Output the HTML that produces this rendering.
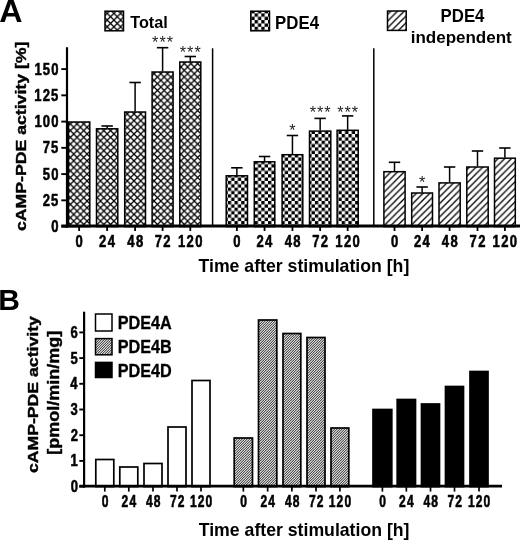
<!DOCTYPE html>
<html><head><meta charset="utf-8"><title>Figure</title>
<style>
html,body{margin:0;padding:0;background:#fff;}
body{width:520px;height:540px;overflow:hidden;}
svg{display:block;font-family:"Liberation Sans",sans-serif;}
</style></head><body>
<svg width="520" height="540" viewBox="0 0 520 540">
<defs>
<pattern id="xh" width="6.7" height="6.7" patternUnits="userSpaceOnUse">
<rect width="6.7" height="6.7" fill="#fff"/>
<path d="M-1,-1 L7.7,7.7 M-1,7.7 L7.7,-1" stroke="#000" stroke-width="1.28" fill="none"/>
</pattern>
<pattern id="ck" width="6.7" height="6.7" patternUnits="userSpaceOnUse">
<rect width="6.7" height="6.7" fill="#fff"/>
<rect x="0" y="0" width="3.35" height="3.35" fill="#000"/>
<rect x="3.35" y="3.35" width="3.35" height="3.35" fill="#000"/>
</pattern>
<pattern id="dg" width="6.7" height="6.7" patternUnits="userSpaceOnUse">
<rect width="6.7" height="6.7" fill="#fff"/>
<path d="M-1,7.7 L7.7,-1 M-1,1 L1,-1 M5.7,7.7 L7.7,5.7" stroke="#000" stroke-width="1.35" fill="none"/>
</pattern>
<pattern id="gr" width="5" height="5" patternUnits="userSpaceOnUse">
<rect width="5" height="5" fill="#e4e4e4"/>
<path d="M-0.5,1.75 L1.75,-0.5 M-0.5,4.25 L4.25,-0.5 M0.75,5.5 L5.5,0.75 M3.25,5.5 L5.5,3.25" stroke="#222" stroke-width="1.0" fill="none"/>
</pattern>
</defs>
<rect width="520" height="540" fill="#fff"/>
<rect x="68.5" y="122.0" width="21.30" height="104.60" fill="url(#xh)" stroke="#000" stroke-width="1.5"/>
<line x1="79.15" y1="226.6" x2="79.15" y2="231.0" stroke="#000" stroke-width="1.8"/>
<text transform="translate(75.53,246.7) scale(0.8,1)" font-size="16.3" font-weight="bold" fill="#000" stroke="#000" stroke-width="0.55" stroke-linejoin="round" letter-spacing="1.7">0</text>
<line x1="107.15" y1="126" x2="107.15" y2="128.3" stroke="#000" stroke-width="1.5"/>
<line x1="101.45" y1="126" x2="112.85000000000001" y2="126" stroke="#000" stroke-width="1.6"/>
<rect x="96.5" y="128.8" width="21.30" height="97.80" fill="url(#xh)" stroke="#000" stroke-width="1.5"/>
<line x1="107.15" y1="226.6" x2="107.15" y2="231.0" stroke="#000" stroke-width="1.8"/>
<text transform="translate(99.04,246.7) scale(0.8,1)" font-size="16.3" font-weight="bold" fill="#000" stroke="#000" stroke-width="0.55" stroke-linejoin="round" letter-spacing="1.7">24</text>
<line x1="135.1" y1="82.5" x2="135.1" y2="111.5" stroke="#000" stroke-width="1.5"/>
<line x1="129.4" y1="82.5" x2="140.79999999999998" y2="82.5" stroke="#000" stroke-width="1.6"/>
<rect x="124.7" y="112.0" width="20.80" height="114.60" fill="url(#xh)" stroke="#000" stroke-width="1.5"/>
<line x1="135.1" y1="226.6" x2="135.1" y2="231.0" stroke="#000" stroke-width="1.8"/>
<text transform="translate(127.28,246.7) scale(0.8,1)" font-size="16.3" font-weight="bold" fill="#000" stroke="#000" stroke-width="0.55" stroke-linejoin="round" letter-spacing="1.7">48</text>
<line x1="162.6" y1="47.7" x2="162.6" y2="71.5" stroke="#000" stroke-width="1.5"/>
<line x1="156.9" y1="47.7" x2="168.29999999999998" y2="47.7" stroke="#000" stroke-width="1.6"/>
<rect x="152.1" y="72.0" width="21.00" height="154.60" fill="url(#xh)" stroke="#000" stroke-width="1.5"/>
<line x1="162.6" y1="226.6" x2="162.6" y2="231.0" stroke="#000" stroke-width="1.8"/>
<text transform="translate(154.65,246.7) scale(0.8,1)" font-size="16.3" font-weight="bold" fill="#000" stroke="#000" stroke-width="0.55" stroke-linejoin="round" letter-spacing="1.7">72</text>
<text transform="translate(152.12,47.6)" font-size="16.2" font-weight="normal" fill="#222" letter-spacing="1.0">***</text>
<line x1="190.3" y1="56.5" x2="190.3" y2="61.5" stroke="#000" stroke-width="1.5"/>
<line x1="184.60000000000002" y1="56.5" x2="196.0" y2="56.5" stroke="#000" stroke-width="1.6"/>
<rect x="179.8" y="62.0" width="21.00" height="164.60" fill="url(#xh)" stroke="#000" stroke-width="1.5"/>
<line x1="190.3" y1="226.6" x2="190.3" y2="231.0" stroke="#000" stroke-width="1.8"/>
<text transform="translate(177.92,246.7) scale(0.8,1)" font-size="16.3" font-weight="bold" fill="#000" stroke="#000" stroke-width="0.55" stroke-linejoin="round" letter-spacing="1.7">120</text>
<text transform="translate(179.82,58.1)" font-size="16.2" font-weight="normal" fill="#222" letter-spacing="1.0">***</text>
<line x1="236.85" y1="167.8" x2="236.85" y2="175.3" stroke="#000" stroke-width="1.5"/>
<line x1="231.15" y1="167.8" x2="242.54999999999998" y2="167.8" stroke="#000" stroke-width="1.6"/>
<rect x="226.2" y="175.8" width="21.30" height="50.80" fill="url(#ck)" stroke="#000" stroke-width="1.5"/>
<line x1="236.85" y1="226.6" x2="236.85" y2="231.0" stroke="#000" stroke-width="1.8"/>
<text transform="translate(233.23,246.7) scale(0.8,1)" font-size="16.3" font-weight="bold" fill="#000" stroke="#000" stroke-width="0.55" stroke-linejoin="round" letter-spacing="1.7">0</text>
<line x1="264.55" y1="156.5" x2="264.55" y2="161.3" stroke="#000" stroke-width="1.5"/>
<line x1="258.85" y1="156.5" x2="270.25" y2="156.5" stroke="#000" stroke-width="1.6"/>
<rect x="254.3" y="161.8" width="20.50" height="64.80" fill="url(#ck)" stroke="#000" stroke-width="1.5"/>
<line x1="264.55" y1="226.6" x2="264.55" y2="231.0" stroke="#000" stroke-width="1.8"/>
<text transform="translate(256.44,246.7) scale(0.8,1)" font-size="16.3" font-weight="bold" fill="#000" stroke="#000" stroke-width="0.55" stroke-linejoin="round" letter-spacing="1.7">24</text>
<line x1="292.45000000000005" y1="135.5" x2="292.45000000000005" y2="154.2" stroke="#000" stroke-width="1.5"/>
<line x1="286.75000000000006" y1="135.5" x2="298.15000000000003" y2="135.5" stroke="#000" stroke-width="1.6"/>
<rect x="282.1" y="154.7" width="20.70" height="71.90" fill="url(#ck)" stroke="#000" stroke-width="1.5"/>
<line x1="292.45000000000005" y1="226.6" x2="292.45000000000005" y2="231.0" stroke="#000" stroke-width="1.8"/>
<text transform="translate(284.63,246.7) scale(0.8,1)" font-size="16.3" font-weight="bold" fill="#000" stroke="#000" stroke-width="0.55" stroke-linejoin="round" letter-spacing="1.7">48</text>
<text transform="translate(289.29,136.3)" font-size="16.2" font-weight="normal" fill="#222" letter-spacing="1.0">*</text>
<line x1="320.15" y1="118.4" x2="320.15" y2="130.6" stroke="#000" stroke-width="1.5"/>
<line x1="314.45" y1="118.4" x2="325.84999999999997" y2="118.4" stroke="#000" stroke-width="1.6"/>
<rect x="309.5" y="131.1" width="21.30" height="95.50" fill="url(#ck)" stroke="#000" stroke-width="1.5"/>
<line x1="320.15" y1="226.6" x2="320.15" y2="231.0" stroke="#000" stroke-width="1.8"/>
<text transform="translate(312.20,246.7) scale(0.8,1)" font-size="16.3" font-weight="bold" fill="#000" stroke="#000" stroke-width="0.55" stroke-linejoin="round" letter-spacing="1.7">72</text>
<text transform="translate(309.67,118.1)" font-size="16.2" font-weight="normal" fill="#222" letter-spacing="1.0">***</text>
<line x1="347.65" y1="115.9" x2="347.65" y2="129.8" stroke="#000" stroke-width="1.5"/>
<line x1="341.95" y1="115.9" x2="353.34999999999997" y2="115.9" stroke="#000" stroke-width="1.6"/>
<rect x="337.1" y="130.3" width="21.10" height="96.30" fill="url(#ck)" stroke="#000" stroke-width="1.5"/>
<line x1="347.65" y1="226.6" x2="347.65" y2="231.0" stroke="#000" stroke-width="1.8"/>
<text transform="translate(335.27,246.7) scale(0.8,1)" font-size="16.3" font-weight="bold" fill="#000" stroke="#000" stroke-width="0.55" stroke-linejoin="round" letter-spacing="1.7">120</text>
<text transform="translate(337.17,118.1)" font-size="16.2" font-weight="normal" fill="#222" letter-spacing="1.0">***</text>
<line x1="394.5" y1="162.3" x2="394.5" y2="171.2" stroke="#000" stroke-width="1.5"/>
<line x1="388.8" y1="162.3" x2="400.2" y2="162.3" stroke="#000" stroke-width="1.6"/>
<rect x="383.9" y="171.7" width="21.20" height="54.90" fill="url(#dg)" stroke="#000" stroke-width="1.5"/>
<line x1="394.5" y1="226.6" x2="394.5" y2="231.0" stroke="#000" stroke-width="1.8"/>
<text transform="translate(390.88,246.7) scale(0.8,1)" font-size="16.3" font-weight="bold" fill="#000" stroke="#000" stroke-width="0.55" stroke-linejoin="round" letter-spacing="1.7">0</text>
<line x1="422.1" y1="187" x2="422.1" y2="192.5" stroke="#000" stroke-width="1.5"/>
<line x1="416.40000000000003" y1="187" x2="427.8" y2="187" stroke="#000" stroke-width="1.6"/>
<rect x="411.7" y="193.0" width="20.80" height="33.60" fill="url(#dg)" stroke="#000" stroke-width="1.5"/>
<line x1="422.1" y1="226.6" x2="422.1" y2="231.0" stroke="#000" stroke-width="1.8"/>
<text transform="translate(413.99,246.7) scale(0.8,1)" font-size="16.3" font-weight="bold" fill="#000" stroke="#000" stroke-width="0.55" stroke-linejoin="round" letter-spacing="1.7">24</text>
<text transform="translate(418.94,187.8)" font-size="16.2" font-weight="normal" fill="#222" letter-spacing="1.0">*</text>
<line x1="449.6" y1="167" x2="449.6" y2="182.4" stroke="#000" stroke-width="1.5"/>
<line x1="443.90000000000003" y1="167" x2="455.3" y2="167" stroke="#000" stroke-width="1.6"/>
<rect x="439.0" y="182.9" width="21.20" height="43.70" fill="url(#dg)" stroke="#000" stroke-width="1.5"/>
<line x1="449.6" y1="226.6" x2="449.6" y2="231.0" stroke="#000" stroke-width="1.8"/>
<text transform="translate(441.78,246.7) scale(0.8,1)" font-size="16.3" font-weight="bold" fill="#000" stroke="#000" stroke-width="0.55" stroke-linejoin="round" letter-spacing="1.7">48</text>
<line x1="477.5" y1="151" x2="477.5" y2="166.5" stroke="#000" stroke-width="1.5"/>
<line x1="471.8" y1="151" x2="483.2" y2="151" stroke="#000" stroke-width="1.6"/>
<rect x="466.8" y="167.0" width="21.40" height="59.60" fill="url(#dg)" stroke="#000" stroke-width="1.5"/>
<line x1="477.5" y1="226.6" x2="477.5" y2="231.0" stroke="#000" stroke-width="1.8"/>
<text transform="translate(469.55,246.7) scale(0.8,1)" font-size="16.3" font-weight="bold" fill="#000" stroke="#000" stroke-width="0.55" stroke-linejoin="round" letter-spacing="1.7">72</text>
<line x1="504.9" y1="148" x2="504.9" y2="157.7" stroke="#000" stroke-width="1.5"/>
<line x1="499.2" y1="148" x2="510.59999999999997" y2="148" stroke="#000" stroke-width="1.6"/>
<rect x="494.5" y="158.2" width="20.80" height="68.40" fill="url(#dg)" stroke="#000" stroke-width="1.5"/>
<line x1="504.9" y1="226.6" x2="504.9" y2="231.0" stroke="#000" stroke-width="1.8"/>
<text transform="translate(492.52,246.7) scale(0.8,1)" font-size="16.3" font-weight="bold" fill="#000" stroke="#000" stroke-width="0.55" stroke-linejoin="round" letter-spacing="1.7">120</text>
<line x1="67" y1="47.2" x2="67" y2="227.7" stroke="#000" stroke-width="2.2"/>
<line x1="61.3" y1="226.1" x2="520" y2="226.1" stroke="#000" stroke-width="3.0"/>
<line x1="61.3" y1="226.6" x2="67" y2="226.6" stroke="#000" stroke-width="1.9"/>
<text transform="translate(51.28,232.0) scale(0.8,1)" font-size="16.3" font-weight="bold" fill="#000" stroke="#000" stroke-width="0.55" stroke-linejoin="round" letter-spacing="1.5">0</text>
<line x1="61.3" y1="200.35" x2="67" y2="200.35" stroke="#000" stroke-width="1.9"/>
<text transform="translate(42.65,205.75) scale(0.8,1)" font-size="16.3" font-weight="bold" fill="#000" stroke="#000" stroke-width="0.55" stroke-linejoin="round" letter-spacing="1.5">25</text>
<line x1="61.3" y1="174.1" x2="67" y2="174.1" stroke="#000" stroke-width="1.9"/>
<text transform="translate(42.85,179.5) scale(0.8,1)" font-size="16.3" font-weight="bold" fill="#000" stroke="#000" stroke-width="0.55" stroke-linejoin="round" letter-spacing="1.5">50</text>
<line x1="61.3" y1="147.85" x2="67" y2="147.85" stroke="#000" stroke-width="1.9"/>
<text transform="translate(42.65,153.25) scale(0.8,1)" font-size="16.3" font-weight="bold" fill="#000" stroke="#000" stroke-width="0.55" stroke-linejoin="round" letter-spacing="1.5">75</text>
<line x1="61.3" y1="121.6" x2="67" y2="121.6" stroke="#000" stroke-width="1.9"/>
<text transform="translate(34.41,127.0) scale(0.8,1)" font-size="16.3" font-weight="bold" fill="#000" stroke="#000" stroke-width="0.55" stroke-linejoin="round" letter-spacing="1.5">100</text>
<line x1="61.3" y1="95.35" x2="67" y2="95.35" stroke="#000" stroke-width="1.9"/>
<text transform="translate(34.21,100.75) scale(0.8,1)" font-size="16.3" font-weight="bold" fill="#000" stroke="#000" stroke-width="0.55" stroke-linejoin="round" letter-spacing="1.5">125</text>
<line x1="61.3" y1="69.1" x2="67" y2="69.1" stroke="#000" stroke-width="1.9"/>
<text transform="translate(34.41,74.5) scale(0.8,1)" font-size="16.3" font-weight="bold" fill="#000" stroke="#000" stroke-width="0.55" stroke-linejoin="round" letter-spacing="1.5">150</text>
<line x1="212.6" y1="48.3" x2="212.6" y2="226.6" stroke="#000" stroke-width="1.5"/>
<line x1="373.8" y1="48.3" x2="373.8" y2="226.6" stroke="#000" stroke-width="1.5"/>
<text transform="translate(26.1,231.01) rotate(-90) scale(1.155,1)" font-size="15.3" font-weight="bold" fill="#000" stroke="#000" stroke-width="0.4" stroke-linejoin="round">cAMP-PDE activity [%]</text>
<text transform="translate(198.53,272.2) scale(1.005,1)" font-size="17.6" font-weight="bold" fill="#000">Time after stimulation [h]</text>
<text transform="translate(-0.71,21.7) scale(1.04,1)" font-size="31" font-weight="bold" fill="#000">A</text>
<rect x="105.0" y="11.2" width="18.50" height="19.60" fill="url(#xh)" stroke="#000" stroke-width="1.5"/>
<text transform="translate(130.24,27.6) scale(0.945,1)" font-size="17.2" font-weight="bold" fill="#000">Total</text>
<rect x="250.8" y="11.2" width="18.70" height="19.60" fill="url(#ck)" stroke="#000" stroke-width="1.5"/>
<text transform="translate(275.11,28.6) scale(0.955,1)" font-size="17.6" font-weight="bold" fill="#000">PDE4</text>
<rect x="387.5" y="11.0" width="18.70" height="19.40" fill="url(#dg)" stroke="#000" stroke-width="1.5"/>
<text transform="translate(440.56,22.1) scale(0.955,1)" font-size="17.6" font-weight="bold" fill="#000">PDE4</text>
<text transform="translate(410.70,42.5)" font-size="17" font-weight="bold" fill="#000">independent</text>
<rect x="95.8" y="459.5" width="18.00" height="27.10" fill="#fff" stroke="#000" stroke-width="1.7"/>
<line x1="104.8" y1="486.6" x2="104.8" y2="491.6" stroke="#000" stroke-width="1.7"/>
<text transform="translate(101.65,507) scale(0.71,1)" font-size="17" font-weight="bold" fill="#000" stroke="#000" stroke-width="0.6" stroke-linejoin="round" letter-spacing="1.55">0</text>
<rect x="119.8" y="467.0" width="18.00" height="19.60" fill="#fff" stroke="#000" stroke-width="1.7"/>
<line x1="128.8" y1="486.6" x2="128.8" y2="491.6" stroke="#000" stroke-width="1.7"/>
<text transform="translate(121.57,507) scale(0.71,1)" font-size="17" font-weight="bold" fill="#000" stroke="#000" stroke-width="0.6" stroke-linejoin="round" letter-spacing="1.55">24</text>
<rect x="144.0" y="463.5" width="18.00" height="23.10" fill="#fff" stroke="#000" stroke-width="1.7"/>
<line x1="153.0" y1="486.6" x2="153.0" y2="491.6" stroke="#000" stroke-width="1.7"/>
<text transform="translate(146.04,507) scale(0.71,1)" font-size="17" font-weight="bold" fill="#000" stroke="#000" stroke-width="0.6" stroke-linejoin="round" letter-spacing="1.55">48</text>
<rect x="168.0" y="427.0" width="18.00" height="59.60" fill="#fff" stroke="#000" stroke-width="1.7"/>
<line x1="177.0" y1="486.6" x2="177.0" y2="491.6" stroke="#000" stroke-width="1.7"/>
<text transform="translate(169.92,507) scale(0.71,1)" font-size="17" font-weight="bold" fill="#000" stroke="#000" stroke-width="0.6" stroke-linejoin="round" letter-spacing="1.55">72</text>
<rect x="192.0" y="380.5" width="18.00" height="106.10" fill="#fff" stroke="#000" stroke-width="1.7"/>
<line x1="201.0" y1="486.6" x2="201.0" y2="491.6" stroke="#000" stroke-width="1.7"/>
<text transform="translate(189.90,507) scale(0.71,1)" font-size="17" font-weight="bold" fill="#000" stroke="#000" stroke-width="0.6" stroke-linejoin="round" letter-spacing="1.55">120</text>
<rect x="234.2" y="438.0" width="18.30" height="48.60" fill="url(#gr)" stroke="#000" stroke-width="1.7"/>
<line x1="243.35" y1="486.6" x2="243.35" y2="491.6" stroke="#000" stroke-width="1.7"/>
<text transform="translate(240.20,507) scale(0.71,1)" font-size="17" font-weight="bold" fill="#000" stroke="#000" stroke-width="0.6" stroke-linejoin="round" letter-spacing="1.55">0</text>
<rect x="258.5" y="320.0" width="18.30" height="166.60" fill="url(#gr)" stroke="#000" stroke-width="1.7"/>
<line x1="267.65" y1="486.6" x2="267.65" y2="491.6" stroke="#000" stroke-width="1.7"/>
<text transform="translate(260.42,507) scale(0.71,1)" font-size="17" font-weight="bold" fill="#000" stroke="#000" stroke-width="0.6" stroke-linejoin="round" letter-spacing="1.55">24</text>
<rect x="283.0" y="333.5" width="17.80" height="153.10" fill="url(#gr)" stroke="#000" stroke-width="1.7"/>
<line x1="291.9" y1="486.6" x2="291.9" y2="491.6" stroke="#000" stroke-width="1.7"/>
<text transform="translate(284.94,507) scale(0.71,1)" font-size="17" font-weight="bold" fill="#000" stroke="#000" stroke-width="0.6" stroke-linejoin="round" letter-spacing="1.55">48</text>
<rect x="307.0" y="337.5" width="18.00" height="149.10" fill="url(#gr)" stroke="#000" stroke-width="1.7"/>
<line x1="316.0" y1="486.6" x2="316.0" y2="491.6" stroke="#000" stroke-width="1.7"/>
<text transform="translate(308.92,507) scale(0.71,1)" font-size="17" font-weight="bold" fill="#000" stroke="#000" stroke-width="0.6" stroke-linejoin="round" letter-spacing="1.55">72</text>
<rect x="331.0" y="428.0" width="17.80" height="58.60" fill="url(#gr)" stroke="#000" stroke-width="1.7"/>
<line x1="339.9" y1="486.6" x2="339.9" y2="491.6" stroke="#000" stroke-width="1.7"/>
<text transform="translate(328.80,507) scale(0.71,1)" font-size="17" font-weight="bold" fill="#000" stroke="#000" stroke-width="0.6" stroke-linejoin="round" letter-spacing="1.55">120</text>
<rect x="373.0" y="409.5" width="18.80" height="77.10" fill="#000" stroke="#000" stroke-width="1.7"/>
<line x1="382.4" y1="486.6" x2="382.4" y2="491.6" stroke="#000" stroke-width="1.7"/>
<text transform="translate(379.25,507) scale(0.71,1)" font-size="17" font-weight="bold" fill="#000" stroke="#000" stroke-width="0.6" stroke-linejoin="round" letter-spacing="1.55">0</text>
<rect x="397.2" y="399.5" width="18.30" height="87.10" fill="#000" stroke="#000" stroke-width="1.7"/>
<line x1="406.35" y1="486.6" x2="406.35" y2="491.6" stroke="#000" stroke-width="1.7"/>
<text transform="translate(399.12,507) scale(0.71,1)" font-size="17" font-weight="bold" fill="#000" stroke="#000" stroke-width="0.6" stroke-linejoin="round" letter-spacing="1.55">24</text>
<rect x="421.5" y="404.0" width="18.00" height="82.60" fill="#000" stroke="#000" stroke-width="1.7"/>
<line x1="430.5" y1="486.6" x2="430.5" y2="491.6" stroke="#000" stroke-width="1.7"/>
<text transform="translate(423.54,507) scale(0.71,1)" font-size="17" font-weight="bold" fill="#000" stroke="#000" stroke-width="0.6" stroke-linejoin="round" letter-spacing="1.55">48</text>
<rect x="445.5" y="386.5" width="18.00" height="100.10" fill="#000" stroke="#000" stroke-width="1.7"/>
<line x1="454.5" y1="486.6" x2="454.5" y2="491.6" stroke="#000" stroke-width="1.7"/>
<text transform="translate(447.42,507) scale(0.71,1)" font-size="17" font-weight="bold" fill="#000" stroke="#000" stroke-width="0.6" stroke-linejoin="round" letter-spacing="1.55">72</text>
<rect x="470.0" y="371.5" width="18.00" height="115.10" fill="#000" stroke="#000" stroke-width="1.7"/>
<line x1="479.0" y1="486.6" x2="479.0" y2="491.6" stroke="#000" stroke-width="1.7"/>
<text transform="translate(467.90,507) scale(0.71,1)" font-size="17" font-weight="bold" fill="#000" stroke="#000" stroke-width="0.6" stroke-linejoin="round" letter-spacing="1.55">120</text>
<line x1="84.1" y1="311.7" x2="84.1" y2="487.70000000000005" stroke="#000" stroke-width="2.2"/>
<line x1="79.3" y1="486.1" x2="502" y2="486.1" stroke="#000" stroke-width="2.8"/>
<line x1="79.3" y1="486.6" x2="84" y2="486.6" stroke="#000" stroke-width="1.9"/>
<text transform="translate(70.68,492.1) scale(0.8,1)" font-size="16.3" font-weight="bold" fill="#000" stroke="#000" stroke-width="0.55" stroke-linejoin="round">0</text>
<line x1="79.3" y1="460.90000000000003" x2="84" y2="460.90000000000003" stroke="#000" stroke-width="1.9"/>
<text transform="translate(70.49,466.40000000000003) scale(0.8,1)" font-size="16.3" font-weight="bold" fill="#000" stroke="#000" stroke-width="0.55" stroke-linejoin="round">1</text>
<line x1="79.3" y1="435.20000000000005" x2="84" y2="435.20000000000005" stroke="#000" stroke-width="1.9"/>
<text transform="translate(70.68,440.70000000000005) scale(0.8,1)" font-size="16.3" font-weight="bold" fill="#000" stroke="#000" stroke-width="0.55" stroke-linejoin="round">2</text>
<line x1="79.3" y1="409.5" x2="84" y2="409.5" stroke="#000" stroke-width="1.9"/>
<text transform="translate(70.62,415.0) scale(0.8,1)" font-size="16.3" font-weight="bold" fill="#000" stroke="#000" stroke-width="0.55" stroke-linejoin="round">3</text>
<line x1="79.3" y1="383.8" x2="84" y2="383.8" stroke="#000" stroke-width="1.9"/>
<text transform="translate(70.23,389.3) scale(0.8,1)" font-size="16.3" font-weight="bold" fill="#000" stroke="#000" stroke-width="0.55" stroke-linejoin="round">4</text>
<line x1="79.3" y1="358.1" x2="84" y2="358.1" stroke="#000" stroke-width="1.9"/>
<text transform="translate(70.49,363.6) scale(0.8,1)" font-size="16.3" font-weight="bold" fill="#000" stroke="#000" stroke-width="0.55" stroke-linejoin="round">5</text>
<line x1="79.3" y1="332.40000000000003" x2="84" y2="332.40000000000003" stroke="#000" stroke-width="1.9"/>
<text transform="translate(70.62,337.90000000000003) scale(0.8,1)" font-size="16.3" font-weight="bold" fill="#000" stroke="#000" stroke-width="0.55" stroke-linejoin="round">6</text>
<text transform="translate(38.4,473.11) rotate(-90) scale(1.155,1)" font-size="15.3" font-weight="bold" fill="#000" stroke="#000" stroke-width="0.4" stroke-linejoin="round">cAMP-PDE activity</text>
<text transform="translate(59.1,454.79) rotate(-90) scale(1.155,1)" font-size="15.6" font-weight="bold" fill="#000" stroke="#000" stroke-width="0.4" stroke-linejoin="round">[pmol/min/mg]</text>
<text transform="translate(198.73,535.6) scale(1.005,1)" font-size="17.6" font-weight="bold" fill="#000">Time after stimulation [h]</text>
<text transform="translate(-1.75,309.8)" font-size="30" font-weight="bold" fill="#000">B</text>
<rect x="95.5" y="314.0" width="16.50" height="17.00" fill="#fff" stroke="#000" stroke-width="1.5"/>
<rect x="95.5" y="338.6" width="16.50" height="16.20" fill="url(#gr)" stroke="#000" stroke-width="1.5"/>
<rect x="95.5" y="362.4" width="16.50" height="15.10" fill="#000" stroke="#000" stroke-width="1.5"/>
<text transform="translate(117.75,329.4) scale(0.905,1)" font-size="17.9" font-weight="bold" fill="#000" stroke="#000" stroke-width="0.3" stroke-linejoin="round">PDE4A</text>
<text transform="translate(117.75,353.4) scale(0.905,1)" font-size="17.9" font-weight="bold" fill="#000" stroke="#000" stroke-width="0.3" stroke-linejoin="round">PDE4B</text>
<text transform="translate(117.75,377.2) scale(0.905,1)" font-size="17.9" font-weight="bold" fill="#000" stroke="#000" stroke-width="0.3" stroke-linejoin="round">PDE4D</text>
</svg>
</body></html>
